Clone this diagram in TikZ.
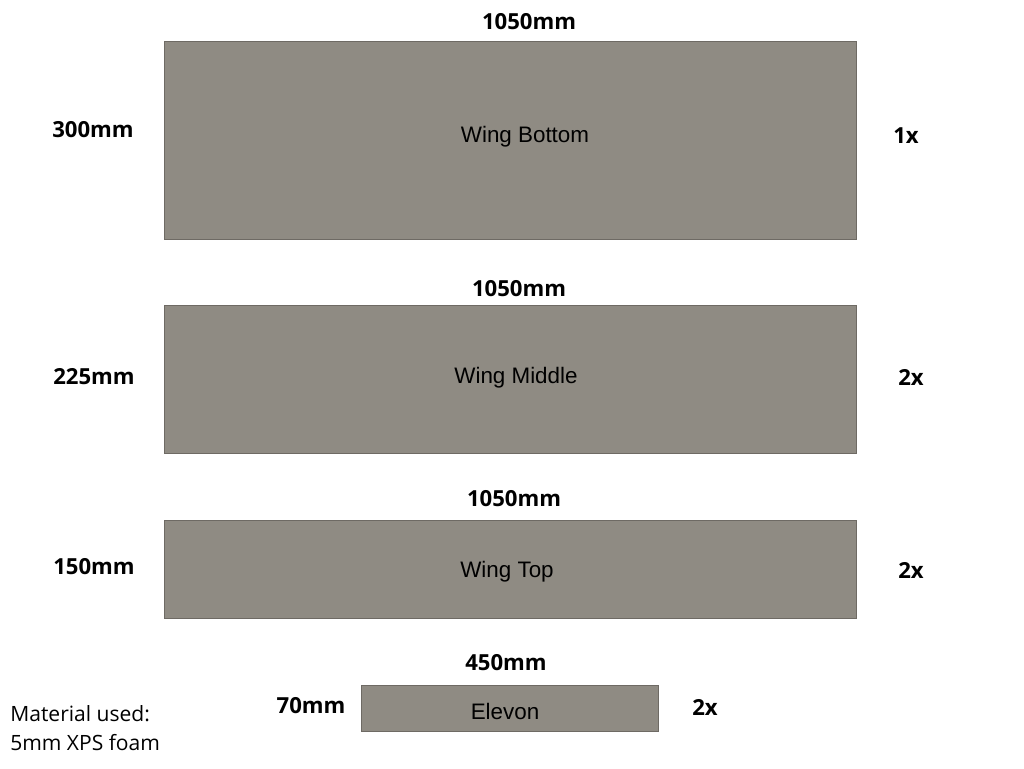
\documentclass[tikz,border=0pt]{standalone}
\usepackage{fontspec}
\setmainfont{Open Sans}
\newfontfamily\arialfont{Liberation Sans}
\usetikzlibrary{positioning}
\definecolor{foam}{HTML}{8F8B83}
\definecolor{foamedge}{HTML}{6E6A64}

\begin{document}
\begin{tikzpicture}[
		x=0.75pt, y=-0.75pt,
		panel/.style={rectangle, draw=foamedge, fill=foam, line width=0.6pt, inner sep=0pt, anchor=north west},
		partname/.style={font=\arialfont\fontsize{16.8}{19}\selectfont, text=black, inner sep=0pt},
		dimlabel/.style={font=\bfseries\fontsize{16.6}{19}\selectfont, inner sep=0pt},
		note/.style={font=\fontsize{15.8}{22}\selectfont, inner sep=0pt, anchor=west}
	]
	\useasboundingbox (0,0) rectangle (1024,768);

	% foam panels
	\node[panel, minimum width=692*0.75pt, minimum height=198*0.75pt] (bottom) at (164,41) {};
	\node[panel, minimum width=692*0.75pt, minimum height=148*0.75pt] (middle) at (164,305) {};
	\node[panel, minimum width=692*0.75pt, minimum height=98*0.75pt] (top) at (164,520) {};
	\node[panel, minimum width=297*0.75pt, minimum height=46*0.75pt] (elevon) at (361,685) {};

	\node[partname] (nbottom) at (525,137) {Wing Bottom};
	\node[partname] (nmiddle) at (516,378) {Wing Middle};
	\node[partname] (ntop) at (507,572) {Wing Top};
	\node[partname] (nelevon) at (505,711) {Elevon};

	% dimensions and counts
	\node[dimlabel] (wbottom) at (529,22) {1050mm};
	\node[dimlabel] (hbottom) at (93,130) {300mm};
	\node[dimlabel] (cbottom) at (906,136) {1x};

	\node[dimlabel] (wmiddle) at (519,289) {1050mm};
	\node[dimlabel] (hmiddle) at (94,377) {225mm};
	\node[dimlabel] (cmiddle) at (911,377) {2x};

	\node[dimlabel] (wtop) at (514,499) {1050mm};
	\node[dimlabel] (htop) at (94,567) {150mm};
	\node[dimlabel] (ctop) at (911,570) {2x};

	\node[dimlabel] (welevon) at (506,663) {450mm};
	\node[dimlabel] (helevon) at (311,706) {70mm};
	\node[dimlabel] (celevon) at (705,707) {2x};

	\node[note] (material) at (10,714) {Material used:};
	\node[note] (foamtype) at (10,743) {5mm XPS foam};
\end{tikzpicture}
\end{document}
